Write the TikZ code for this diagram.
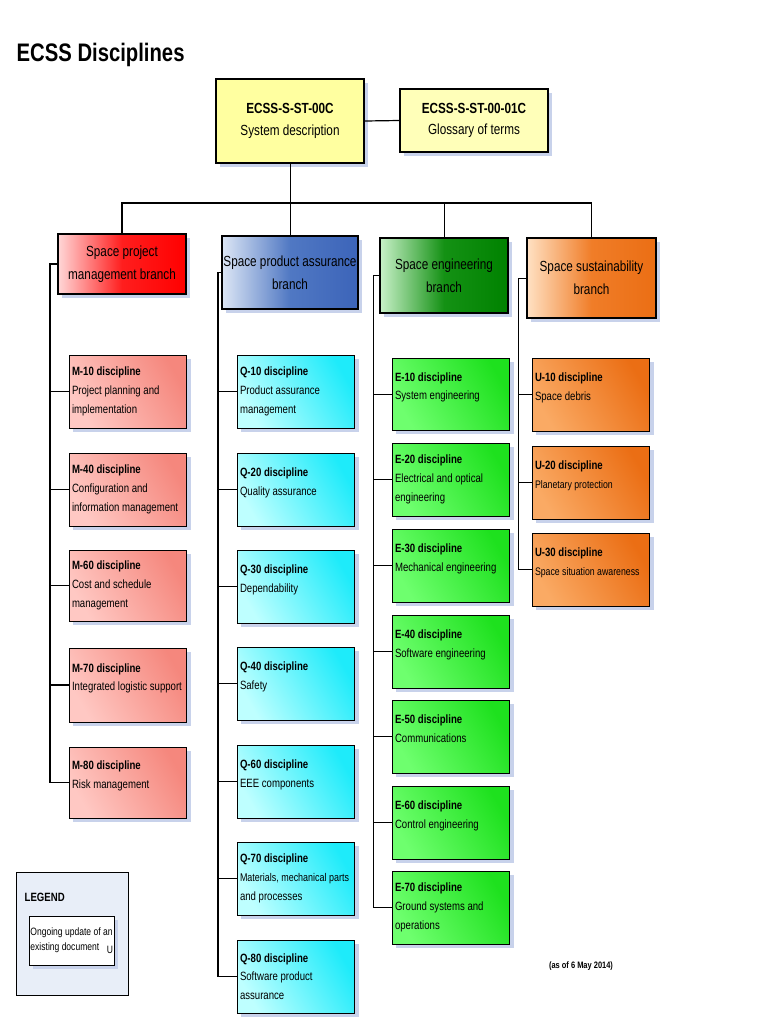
\documentclass[tikz,border=0pt]{standalone}
\usepackage{fontspec}
\setmainfont{Liberation Sans}[FakeStretch=0.8]
\usetikzlibrary{shadows}
\definecolor{shd}{RGB}{200,210,235}
\tikzset{
 base/.style={draw=black, inner sep=2pt, drop shadow={fill=shd, opacity=1, shadow xshift=3pt, shadow yshift=-3pt}},
 topbox/.style={base, line width=1.8pt, fill={rgb,255:red,255;green,255;blue,160}, align=center, font=\fontsize{11}{16}\selectfont},
 glbox/.style={base, line width=0.9pt, fill={rgb,255:red,255;green,255;blue,185}, align=center, font=\fontsize{11}{16}\selectfont},
 brbox/.style={base, line width=1.6pt, align=center, font=\fontsize{11}{17}\selectfont, shading angle=120},
 dbox/.style={base, line width=0.6pt, align=flush left, font=\fontsize{9}{14}\selectfont},
 mbox/.style={dbox, left color={rgb,255:red,255;green,200;blue,195}, right color={rgb,255:red,245;green,135;blue,125}, shading angle=120},
 qbox/.style={dbox, left color={rgb,255:red,190;green,255;blue,255}, right color={rgb,255:red,30;green,235;blue,250}, shading angle=120},
 ebox/.style={dbox, left color={rgb,255:red,110;green,255;blue,110}, right color={rgb,255:red,30;green,225;blue,30}, shading angle=120},
 ubox/.style={dbox, left color={rgb,255:red,250;green,170;blue,100}, right color={rgb,255:red,235;green,110;blue,20}, shading angle=120},
 ln/.style={line width=0.9pt},
}
\newcommand\bx[7]{\node[#5, minimum width={(#3-#1)*0.75pt}, minimum height={(#4-#2)*0.75pt}, text width={(#3-#1-4)*0.75pt}] (#6) at ({(#1+#3)/2},{(#2+#4)/2}) {#7};}
\newcommand\cb[7]{\node[#5, minimum width={(#3-#1)*0.75pt}, minimum height={(#4-#2)*0.75pt}, inner sep=1pt] (#6) at ({(#1+#3)/2},{(#2+#4)/2}) {#7};}
\begin{document}
\begin{tikzpicture}[x=0.75pt,y=-0.75pt]
\useasboundingbox[fill=white] (0,0) rectangle (768,1024);
\node[anchor=west, font=\fontsize{19}{24}\selectfont\bfseries] (title) at (12,55) {ECSS Disciplines};
\cb{216}{79}{364}{163}{topbox}{top}{\textbf{ECSS-S-ST-00C}\\System description}
\cb{400}{89}{548}{152}{glbox}{gl}{\textbf{ECSS-S-ST-00-01C}\\Glossary of terms}
\cb{58}{234}{186}{294}{brbox, left color={rgb,255:red,255;green,215;blue,215}, right color={rgb,255:red,255;green,0;blue,0}, middle color={rgb,255:red,255;green,30;blue,30}}{b1}{Space project\\management branch}
\cb{226}{236}{354}{309}{brbox, left color={rgb,255:red,220;green,230;blue,245}, right color={rgb,255:red,60;green,100;blue,185}, middle color={rgb,255:red,80;green,120;blue,195}}{b2}{Space product assurance\\branch}
\cb{380}{238}{508}{313}{brbox, left color={rgb,255:red,200;green,240;blue,200}, right color={rgb,255:red,0;green,130;blue,0}, middle color={rgb,255:red,20;green,145;blue,20}}{b3}{Space engineering\\branch}
\cb{527}{238}{656}{318}{brbox, left color={rgb,255:red,255;green,225;blue,195}, right color={rgb,255:red,235;green,110;blue,20}, middle color={rgb,255:red,240;green,125;blue,40}}{b4}{Space sustainability\\branch}
% M
\bx{70}{355}{186}{428}{mbox}{m1}{\textbf{M-10 discipline}\\Project planning and\\implementation}
\bx{70}{453}{186}{526}{mbox}{m2}{\textbf{M-40 discipline}\\Configuration and\\information management}
\bx{70}{550}{186}{621}{mbox}{m3}{\textbf{M-60 discipline}\\Cost and schedule\\management}
\bx{70}{648}{186}{722}{mbox}{m4}{\textbf{M-70 discipline}\\Integrated logistic support\\[-2pt]\mbox{}}
\bx{70}{747}{186}{818}{mbox}{m5}{\textbf{M-80 discipline}\\Risk management\\[-2pt]\mbox{}}
% Q
\bx{238}{355}{354}{428}{qbox}{q1}{\textbf{Q-10 discipline}\\Product assurance\\management}
\bx{238}{453}{354}{526}{qbox}{q2}{\textbf{Q-20 discipline}\\Quality assurance\\[-2pt]\mbox{}}
\bx{238}{550}{354}{623}{qbox}{q3}{\textbf{Q-30 discipline}\\Dependability\\[-2pt]\mbox{}}
\bx{238}{647}{354}{720}{qbox}{q4}{\textbf{Q-40 discipline}\\Safety\\[-2pt]\mbox{}}
\bx{238}{745}{354}{818}{qbox}{q5}{\textbf{Q-60 discipline}\\EEE components\\[-2pt]\mbox{}}
\bx{238}{842}{354}{915}{qbox}{q6}{\textbf{Q-70 discipline}\\{\fontsize{8.4}{14}\selectfont Materials, mechanical parts}\\and processes}
\bx{238}{940}{354}{1013}{qbox}{q7}{\textbf{Q-80 discipline}\\Software product\\assurance}
% E
\bx{393}{358}{509}{430}{ebox}{e1}{\textbf{E-10 discipline}\\System engineering\\[-2pt]\mbox{}}
\bx{393}{443}{509}{516}{ebox}{e2}{\textbf{E-20 discipline}\\Electrical and optical\\engineering}
\bx{393}{529}{509}{602}{ebox}{e3}{\textbf{E-30 discipline}\\Mechanical engineering\\[-2pt]\mbox{}}
\bx{393}{615}{509}{688}{ebox}{e4}{\textbf{E-40 discipline}\\Software engineering\\[-2pt]\mbox{}}
\bx{393}{700}{509}{773}{ebox}{e5}{\textbf{E-50 discipline}\\Communications\\[-2pt]\mbox{}}
\bx{393}{786}{509}{859}{ebox}{e6}{\textbf{E-60 discipline}\\Control engineering\\[-2pt]\mbox{}}
\bx{393}{871}{509}{944}{ebox}{e7}{\textbf{E-70 discipline}\\Ground systems and\\operations}
% U
\bx{533}{358}{649}{431}{ubox}{u1}{\textbf{U-10 discipline}\\Space debris\\[-2pt]\mbox{}}
\bx{533}{446}{649}{519}{ubox}{u2}{\textbf{U-20 discipline}\\{\fontsize{8.2}{14}\selectfont Planetary protection}\\[-2pt]\mbox{}}
\bx{533}{533}{649}{606}{ubox}{u3}{\textbf{U-30 discipline}\\{\fontsize{8.2}{14}\selectfont Space situation awareness}\\[-2pt]\mbox{}}
% legend
\node[draw=black, line width=0.7pt, fill={rgb,255:red,232;green,238;blue,248}, minimum width={112*0.75pt}, minimum height={123*0.75pt}] (leg) at (72,933.5) {};
\node[anchor=west, font=\fontsize{9}{11}\selectfont\bfseries] (legt) at (20,897) {LEGEND};
\node[base, line width=0.6pt, fill=white, align=left, font=\fontsize{8}{11}\selectfont, minimum width={85*0.75pt}, minimum height={49*0.75pt}, inner sep=1pt] (legb) at (71.5,940.5) {Ongoing update of an\\existing document};
\node[font=\fontsize{8}{9}\selectfont] (legu) at (110,950) {U};
\node[font=\fontsize{7}{9}\selectfont\bfseries] (date) at (581,966) {(as of 6 May 2014)};
% connectors
\draw[ln] (top.east) -- (gl.west);
\coordinate (bus) at (0,203);
\draw[ln, line width=0.6pt] (top.south) -- (b2.north);
\draw[ln] (b1.north) |- (b4.north |- bus) -- (b4.north);
\draw[ln, line width=0.6pt] (b3.north) -- (b3.north |- bus);
\coordinate (s1) at (50,0); \coordinate (s2) at (218,0); \coordinate (s3) at (373,0); \coordinate (s4) at (518,0);
\draw[ln] (b1.west) -- (s1 |- b1.west) -- (s1 |- m5.west) -- (m5.west);
\foreach \n in {m1,m2,m3,m4} \draw[ln] (\n.west) -- (s1 |- \n.west);
\draw[ln] (b2.west) -- (s2 |- b2.west) -- (s2 |- q7.west) -- (q7.west);
\foreach \n in {q1,q2,q3,q4,q5,q6} \draw[ln] (\n.west) -- (s2 |- \n.west);
\draw[ln, line width=0.6pt] (b3.west) -- (s3 |- b3.west) -- (s3 |- e7.west) -- (e7.west);
\foreach \n in {e1,e2,e3,e4,e5,e6} \draw[ln, line width=0.6pt] (\n.west) -- (s3 |- \n.west);
\draw[ln, line width=0.6pt] (b4.west) -- (s4 |- b4.west) -- (s4 |- u3.west) -- (u3.west);
\foreach \n in {u1,u2} \draw[ln, line width=0.6pt] (\n.west) -- (s4 |- \n.west);
\end{tikzpicture}
\end{document}
